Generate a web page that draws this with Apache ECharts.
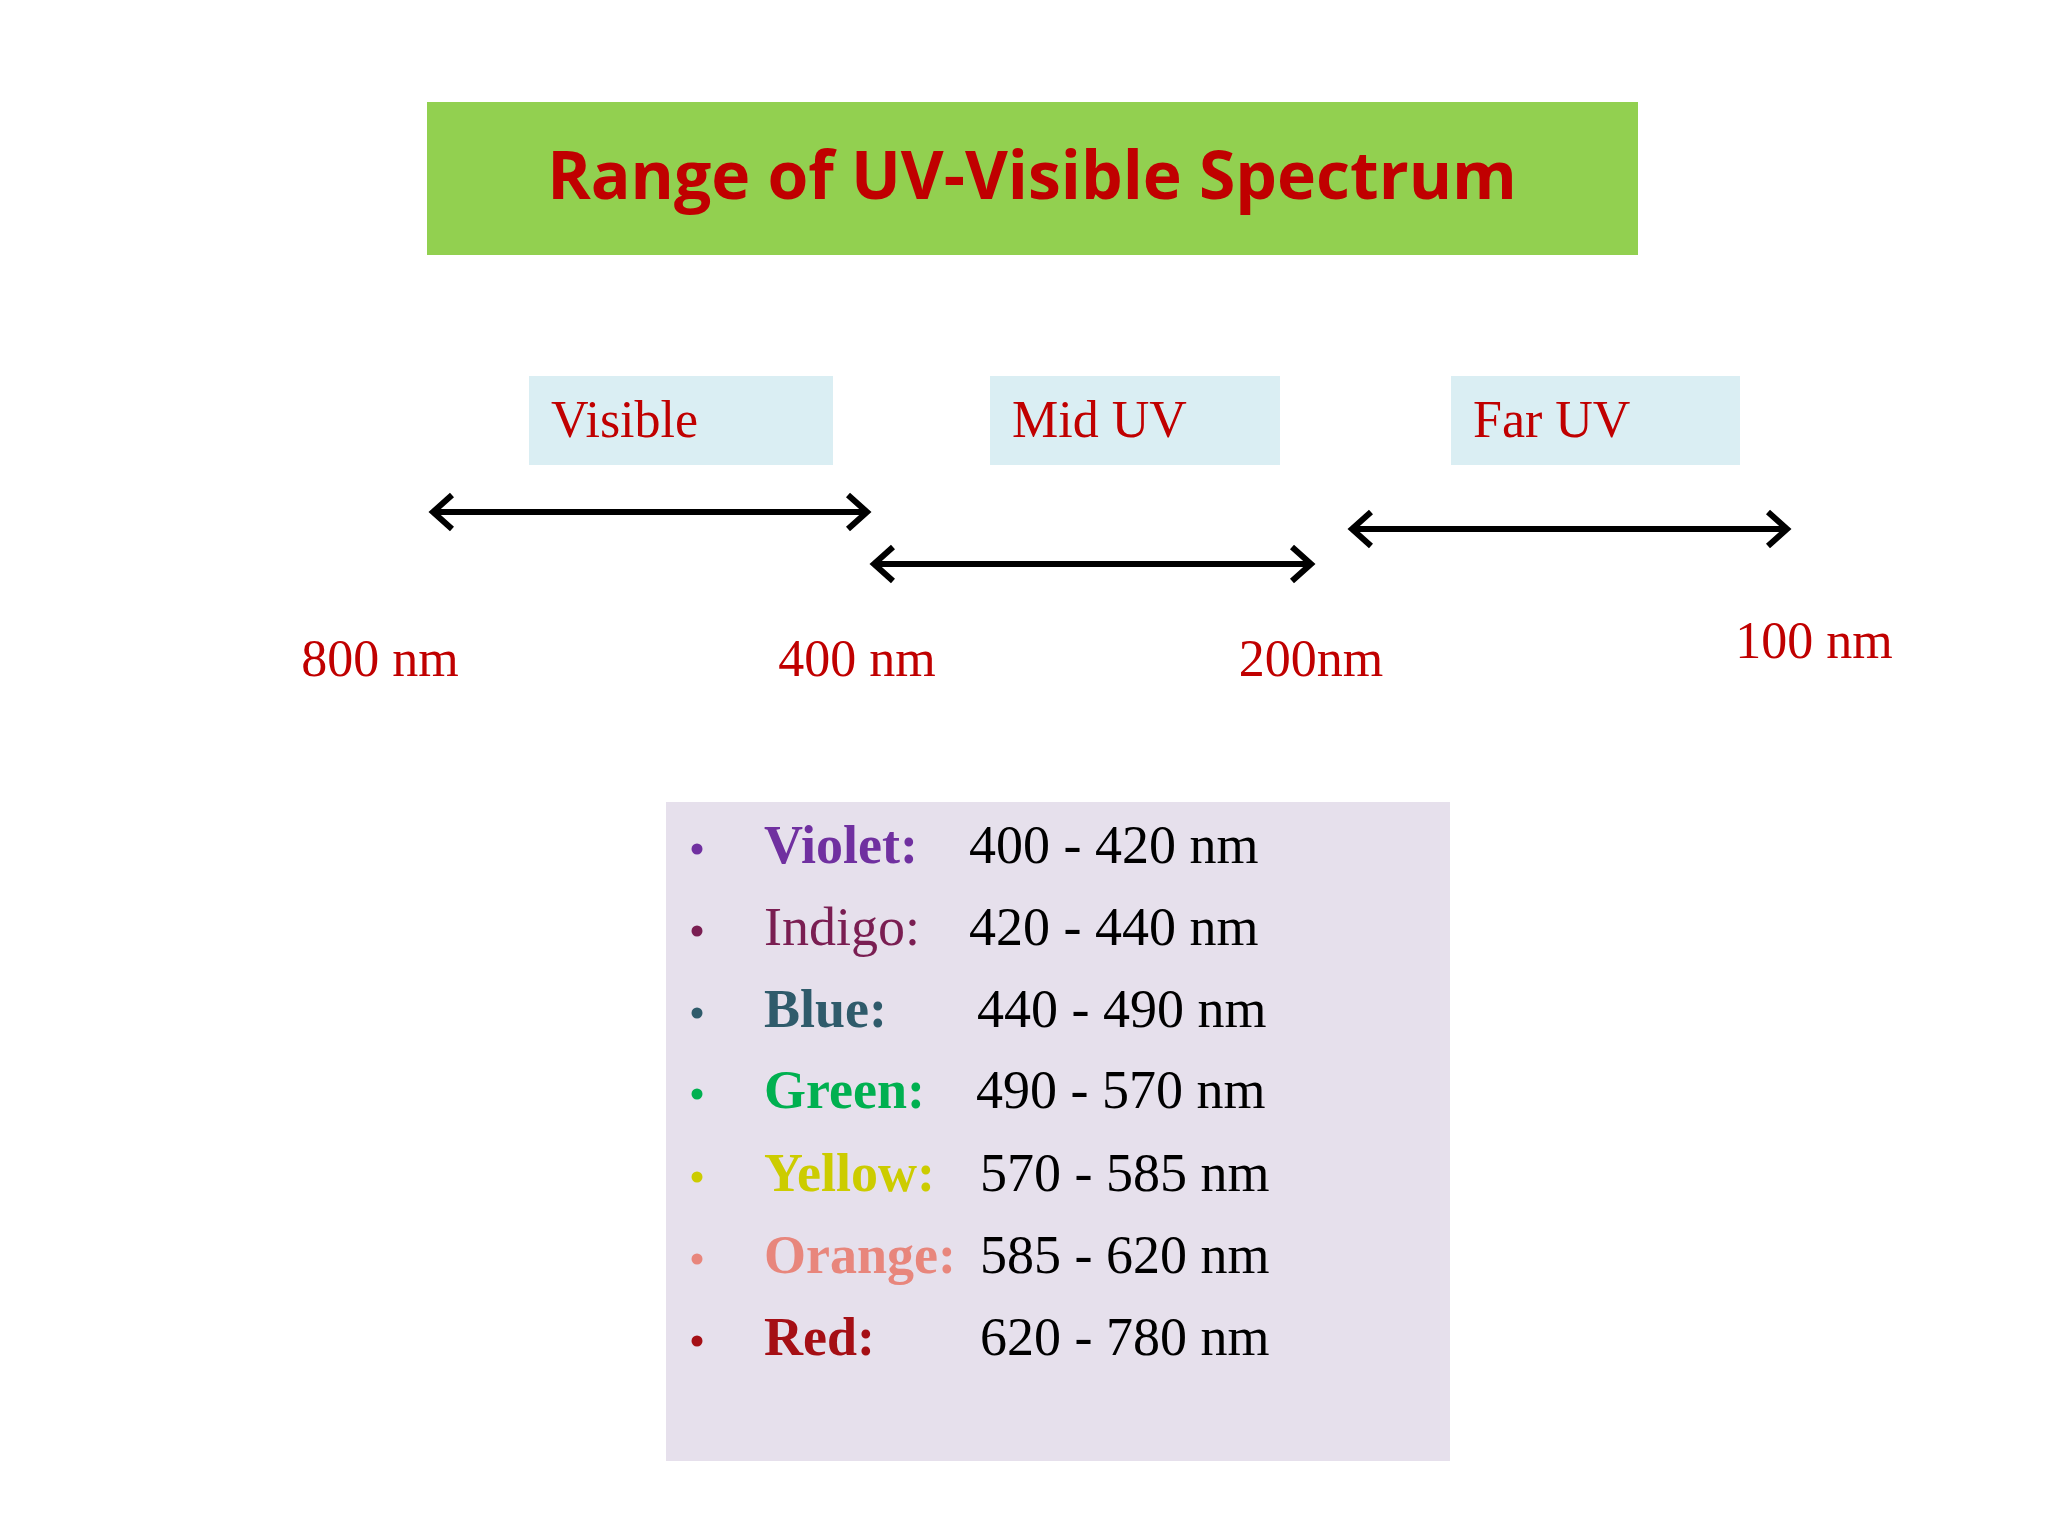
<!DOCTYPE html>
<html><head><meta charset="utf-8">
<script src="https://cdn.jsdelivr.net/npm/echarts@6/dist/echarts.min.js"></script>
<style>html,body{margin:0;padding:0;background:#fff}#c{width:2048px;height:1536px}</style>
</head><body><div id="c"></div>
<script>
const titleText = "Range of UV-Visible Spectrum";
const regionNames = ["Visible", "Mid UV", "Far UV"];
const wavelengthLabels = ["800 nm", "400 nm", "200nm", "100 nm"];
const bandNames = ["Violet:", "Indigo:", "Blue:", "Green:", "Yellow:", "Orange:", "Red:"];
const bandRanges = ["400 - 420 nm", "420 - 440 nm", "440 - 490 nm", "490 - 570 nm", "570 - 585 nm", "585 - 620 nm", "620 - 780 nm"];
const bandColors = ["#7030a0", "#7a1e52", "#2f5b6b", "#00b050", "#cccc00", "#e8867c", "#a50f15"];
const bandBold = [true, false, true, true, true, true, true];

const serif = "'Liberation Serif','DejaVu Serif',serif";
const red = "#c00000";
const g = [];
// title banner
g.push({type:'rect', shape:{x:427,y:102,width:1211,height:153}, style:{fill:'#92d050'}});
g.push({type:'text', x:1032, y:180, style:{text:titleText, fill:red, font:"bold 66px 'Open Sans','Noto Sans',sans-serif", align:'center', verticalAlign:'middle'}});
// region boxes
const boxX = [529, 990, 1451], boxW = [304, 290, 289];
regionNames.forEach((n,i)=>{
  g.push({type:'rect', shape:{x:boxX[i],y:376,width:boxW[i],height:89}, style:{fill:'#daeef3'}});
  g.push({type:'text', x:boxX[i]+22, y:423, style:{text:n, fill:red, font:"52px "+serif, align:'left', verticalAlign:'middle'}});
});
// arrows
const arrows = [[431,869,512],[872,1313,564],[1350,1789,529]];
arrows.forEach(a=>{
  const [x1,x2,y]=a, h=17;
  g.push({type:'line', shape:{x1:x1+3,y1:y,x2:x2-3,y2:y}, style:{stroke:'#000',lineWidth:6}});
  g.push({type:'polyline', shape:{points:[[x1+h+4,y-h],[x1+2,y],[x1+h+4,y+h]]}, style:{stroke:'#000',lineWidth:6,fill:null,lineJoin:'miter'}});
  g.push({type:'polyline', shape:{points:[[x2-h-4,y-h],[x2-2,y],[x2-h-4,y+h]]}, style:{stroke:'#000',lineWidth:6,fill:null,lineJoin:'miter'}});
});
// wavelength labels
const wlX=[380,857,1311,1814], wlY=[662,662,662,644];
wavelengthLabels.forEach((t,i)=>g.push({type:'text', x:wlX[i], y:wlY[i], style:{text:t, fill:red, font:"52px "+serif, align:'center', verticalAlign:'middle'}}));
// band box
g.push({type:'rect', shape:{x:666,y:802,width:784,height:659}, style:{fill:'#e6e0ec'}});
const rowY=[849,931,1013,1094,1177,1259,1341];
const rangeX=[969,969,977,976,980,980,980];
bandNames.forEach((n,i)=>{
  g.push({type:'circle', shape:{cx:697,cy:rowY[i],r:5.5}, style:{fill:bandColors[i]}});
  g.push({type:'text', x:764, y:rowY[i], style:{text:n, fill:bandColors[i], font:(bandBold[i]?'bold ':'')+"54px "+serif, align:'left', verticalAlign:'middle'}});
  g.push({type:'text', x:rangeX[i], y:rowY[i], style:{text:bandRanges[i], fill:'#000', font:"54px "+serif, align:'left', verticalAlign:'middle'}});
});
const chart = echarts.init(document.getElementById('c'));
chart.setOption({backgroundColor:'#fff', graphic:g});
</script></body></html>
